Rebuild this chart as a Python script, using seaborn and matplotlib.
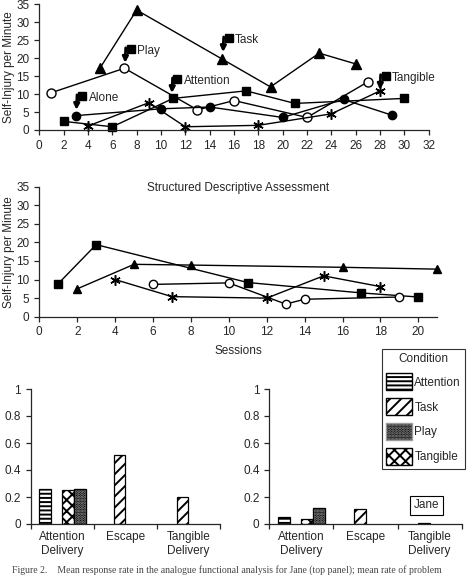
import numpy as np
import pandas as pd
import matplotlib
matplotlib.use("Agg")
import matplotlib.pyplot as plt
from matplotlib.patches import Patch, Rectangle
import seaborn as sns

# ---------------- data ----------------
# Top panel: analogue functional analysis
fa_task_x = [5, 8, 15, 19, 23, 26]
fa_task_y = [17.3, 33.4, 19.8, 12.0, 21.4, 18.4]
fa_play_x = [1, 7, 13, 16, 22, 27]
fa_play_y = [10.4, 17.2, 5.6, 8.2, 3.5, 13.4]
fa_att_x = [2, 6, 11, 17, 21, 30]
fa_att_y = [2.4, 0.9, 8.8, 10.9, 7.4, 8.8]
fa_alone_x = [3, 10, 14, 20, 25, 29]
fa_alone_y = [4.0, 5.9, 6.4, 3.5, 8.5, 4.1]
fa_tang_x = [4, 9, 12, 18, 24, 28]
fa_tang_y = [1.1, 7.6, 0.9, 1.3, 4.5, 10.9]

fa_labels = ["Alone", "Play", "Attention", "Task", "Tangible"]
fa_label_tips_x = [3.05, 7.05, 10.9, 15.1, 28.0]
fa_label_tips_y = [5.6, 18.7, 10.3, 21.7, 11.2]

# Middle panel: structured descriptive assessment
sda_att_x = [1, 3, 11, 17, 20]
sda_att_y = [8.9, 19.4, 9.2, 6.4, 5.3]
sda_task_x = [2, 5, 8, 16, 21]
sda_task_y = [7.5, 14.1, 13.9, 13.3, 12.8]
sda_play_x = [6, 10, 13, 14, 19]
sda_play_y = [8.7, 9.1, 3.4, 4.7, 5.3]
sda_tang_x = [4, 7, 12, 15, 18]
sda_tang_y = [10.0, 5.4, 5.0, 11.0, 8.1]

# Bottom panels: response rates
categories = ["Attention\nDelivery", "Escape", "Tangible\nDelivery"]
bar_conditions = ["Attention", "Task", "Tangible", "Play"]
legend_conditions = ["Attention", "Task", "Play", "Tangible"]
left_attention = [0.26, 0.0, 0.0]
left_task = [0.0, 0.51, 0.20]
left_tangible = [0.25, 0.0, 0.0]
left_play = [0.26, 0.0, 0.0]
right_attention = [0.05, 0.0, 0.0]
right_task = [0.0, 0.11, 0.005]
right_tangible = [0.035, 0.0, 0.0]
right_play = [0.12, 0.0, 0.0]

# ---------------- style ----------------
sns.set_theme(style="ticks")
plt.rcParams["font.family"] = ["Liberation Sans", "DejaVu Sans"]
plt.rcParams["hatch.linewidth"] = 1.4
FS = 8.5
plt.rcParams.update({
    "axes.linewidth": 0.9,
    "xtick.major.width": 0.9, "ytick.major.width": 0.9,
    "xtick.minor.width": 0.9,
    "xtick.major.size": 3.5, "ytick.major.size": 3.5,
    "xtick.labelsize": FS, "ytick.labelsize": FS,
    "axes.labelsize": FS,
})

W, H = 474, 576
fig = plt.figure(figsize=(W / 100, H / 100), dpi=100)


def ax_px(l, r, t, b):
    return fig.add_axes([l / W, 1 - b / H, (r - l) / W, (b - t) / H])


ax1 = ax_px(39.3, 428.7, 4.3, 130)
ax2 = ax_px(39.3, 437.3, 186.7, 316.7)
ax3 = ax_px(30.7, 220, 389, 524)
ax4 = ax_px(269.3, 461.7, 389, 524)

lw = 1.0
MS = 6


def series(ax, x, y, marker, face, ms=MS, mew=1.0):
    sns.lineplot(x=x, y=y, ax=ax, color="black", lw=lw, marker=marker,
                 markersize=ms, markerfacecolor=face, markeredgecolor="black",
                 markeredgewidth=mew, estimator=None, sort=False, clip_on=False,
                 legend=False)


ast = (6, 2, 0)
# ----- top panel -----
series(ax1, fa_task_x, fa_task_y, "^", "black", ms=6.5)
series(ax1, fa_play_x, fa_play_y, "o", "white", ms=6.5)
series(ax1, fa_att_x, fa_att_y, "s", "black", ms=6)
series(ax1, fa_alone_x, fa_alone_y, "o", "black", ms=6)
series(ax1, fa_tang_x, fa_tang_y, ast, "black", ms=7.5, mew=1.1)

for lab, tx, ty in zip(fa_labels, fa_label_tips_x, fa_label_tips_y):
    ax1.annotate("", xy=(tx, ty), xytext=(tx + 0.05, ty + 4.2),
                 arrowprops=dict(arrowstyle="-|>", color="black", lw=2.0,
                                 mutation_scale=8, shrinkA=0, shrinkB=0))
    ax1.plot([tx + 0.45], [ty + 3.8], marker="s", ms=5.5, color="black")
    ax1.text(tx + 1.0, ty + 3.4, lab, fontsize=FS, va="center", ha="left")

ax1.set_xlim(0, 32)
ax1.set_ylim(0, 35)
ax1.set_xticks(range(0, 33, 2))
ax1.set_yticks(range(0, 36, 5))
ax1.set_ylabel("Self-Injury per Minute", labelpad=1)
ax1.set_xlabel("")
sns.despine(ax=ax1)

# ----- middle panel -----
series(ax2, sda_att_x, sda_att_y, "s", "black", ms=6)
series(ax2, sda_task_x, sda_task_y, "^", "black", ms=6)
series(ax2, sda_play_x, sda_play_y, "o", "white", ms=6)
series(ax2, sda_tang_x, sda_tang_y, ast, "black", ms=7.5, mew=1.1)
ax2.set_xlim(0, 21)
ax2.set_ylim(0, 35)
ax2.set_xticks(range(0, 21, 2))
ax2.set_yticks(range(0, 36, 5))
ax2.set_ylabel("Self-Injury per Minute", labelpad=1)
ax2.set_xlabel("Sessions", labelpad=5)
ax2.text(0.5, 0.99, "Structured Descriptive Assessment", transform=ax2.transAxes,
         ha="center", va="center", fontsize=FS)
sns.despine(ax=ax2)

# ----- bar panels -----
hatches = {"Attention": "----", "Task": "///", "Tangible": "xxx", "Play": "......"}
PLAY_DOT = "#9a9a9a"


def bar_panel(ax, att, task, tang, play):
    df = pd.DataFrame({
        "category": categories * 4,
        "condition": sum([[c] * 3 for c in bar_conditions], []),
        "rate": att + task + tang + play,
    })
    sns.barplot(data=df, x="category", y="rate", hue="condition",
                hue_order=bar_conditions, order=categories,
                palette=["white"] * 4, edgecolor="black", linewidth=0.9,
                width=0.74, legend=False, ax=ax, errorbar=None)
    for cond, cont in zip(bar_conditions, ax.containers):
        for p in cont.patches:
            if p.get_height() <= 0:
                p.set_visible(False)
                continue
            if cond == "Play":
                p.set_facecolor("black")
                p.set_edgecolor(PLAY_DOT)
                p.set_hatch(hatches[cond])
                ax.add_patch(Rectangle(p.get_xy(), p.get_width(), p.get_height(),
                                       fill=False, edgecolor="black", lw=0.9))
            else:
                p.set_hatch(hatches[cond])
    ax.set_ylim(0, 1)
    ax.set_xlim(-0.5, 2.5)
    ax.set_yticks([0, 0.2, 0.4, 0.6, 0.8, 1])
    ax.set_yticklabels(["0", "0.2", "0.4", "0.6", "0.8", "1"])
    ax.set_xlabel("")
    ax.set_ylabel("")
    ax.tick_params(axis="x", which="major", length=0, pad=5, labelsize=FS)
    ax.set_xticks([-0.5, 0.5, 1.5, 2.5], minor=True)
    ax.tick_params(axis="x", which="minor", length=3.5, direction="out")
    for t in ax.get_xticklabels():
        t.set_linespacing(1.2)
    sns.despine(ax=ax)


bar_panel(ax3, left_attention, left_task, left_tangible, left_play)
bar_panel(ax4, right_attention, right_task, right_tangible, right_play)

# legend
handles = []
for cond in legend_conditions:
    if cond == "Play":
        handles.append(Patch(facecolor="black", edgecolor=PLAY_DOT, hatch=hatches[cond]))
    else:
        handles.append(Patch(facecolor="white", edgecolor="black", hatch=hatches[cond]))
leg = fig.legend(handles, legend_conditions, title="Condition", loc="upper left",
                 bbox_to_anchor=(382 / W, 1 - 349 / H), frameon=True, fancybox=False,
                 edgecolor="black", fontsize=FS, title_fontsize=FS,
                 handlelength=2.2, handleheight=1.8, labelspacing=0.7,
                 handletextpad=0.2, borderpad=0.35, borderaxespad=0)
leg.get_frame().set_linewidth(0.8)

# Jane box
fig.text(414 / W, 1 - 505.5 / H, "Jane", fontsize=FS, ha="left", va="center",
         bbox=dict(boxstyle="square,pad=0.3", facecolor="white", edgecolor="black",
                   linewidth=0.8))

# caption
fig.text(12 / W, 1 - 575 / H,
         "Figure 2.    Mean response rate in the analogue functional analysis for Jane (top panel); mean rate of problem",
         fontsize=7.0, family=["Liberation Serif", "DejaVu Serif"], color="#444444",
         ha="left", va="bottom")

fig.savefig("out.png", dpi=100)
